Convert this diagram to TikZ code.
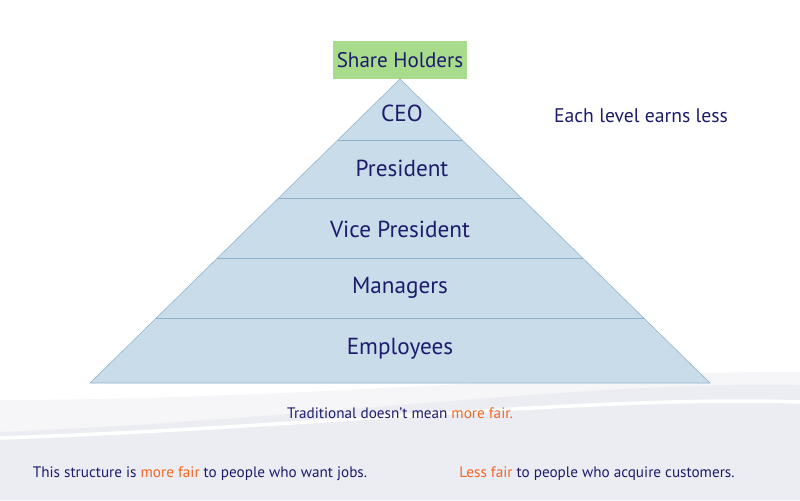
\documentclass[tikz,border=0pt]{standalone}
\usepackage{fontspec}
\setmainfont{PT Sans}
\definecolor{navy}{HTML}{1C1C6B}
\definecolor{fairorange}{HTML}{F26522}
\definecolor{levelblue}{HTML}{C9DCEA}
\definecolor{levelline}{HTML}{8FB2CC}
\definecolor{holdergreen}{HTML}{A8DC8C}
\definecolor{swoosh}{HTML}{ECEDF3}
\begin{document}
\begin{tikzpicture}[x=0.025cm,y=-0.025cm,
		every node/.style={
			text=navy,
			font=\fontsize{15}{18}\selectfont
		},
		level/.style={
			font=\fontsize{16.5}{20}\selectfont
		},
		note/.style={
			font=\fontsize{10.8}{13}\selectfont
		}]

		\useasboundingbox (0,0) rectangle (800,500);

		%background swoosh
		\fill[swoosh!50] (0,400) .. controls (300,400) and (600,370) .. (800,372) -- (800,500) -- (0,500) -- cycle;
		\fill[swoosh] (0,432) .. controls (300,420) and (600,380) .. (800,385) -- (800,500) -- (0,500) -- cycle;
		\draw[white,line width=2.5pt] (0,438) .. controls (300,428) and (600,395) .. (800,402);

		%pyramid
		\fill[levelblue,draw=levelline] (400,79) -- (710,383) -- (90,383) -- cycle;
		\foreach \y in {140,198,258,318}
			\draw[levelline] ({400-(\y-79)*1.02},\y) -- ({400+(\y-79)*1.02},\y);

		\node[fill=holdergreen,minimum width=3.35cm,minimum height=0.95cm,inner sep=0pt] (holders) at (400,60) {Share Holders};

		\node[level] (ceo) at (402,113) {CEO};
		\node[level] (president) at (402,168) {President};
		\node[level] (vice) at (400,229) {Vice President};
		\node[level] (managers) at (400,288) {Managers};
		\node[level] (employees) at (400,349) {Employees};

		\node[font=\fontsize{14}{17}\selectfont] (earns) at (641,116) {Each level earns less};

		%notes
		\node[note] (traditional) at (400,413) {Traditional doesn't mean \textcolor{fairorange}{more fair.}};
		\node[note] (jobs) at (200,474) {This structure is \textcolor{fairorange}{more fair} to people who want jobs.};
		\node[note] (customers) at (597,474) {\textcolor{fairorange}{Less fair} to people who acquire customers.};

	\end{tikzpicture}
\end{document}
